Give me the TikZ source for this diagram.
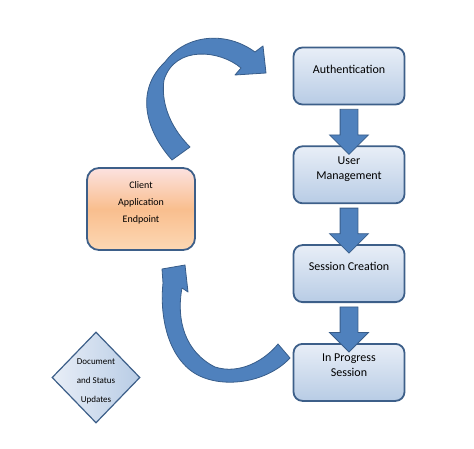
\documentclass[tikz,border=0pt]{standalone}
\usepackage{fontspec}
\setmainfont{Carlito}
\usetikzlibrary{positioning,shapes.geometric,shapes.arrows}

\definecolor{edge}{RGB}{61,95,137}
\definecolor{boxtop}{RGB}{232,238,247}
\definecolor{boxbot}{RGB}{184,204,229}
\definecolor{arrowfill}{RGB}{79,129,189}
\definecolor{arrowedge}{RGB}{56,93,138}
\definecolor{peachtop}{RGB}{252,226,224}
\definecolor{peachmid}{RGB}{249,190,142}
\definecolor{peachbot}{RGB}{252,216,180}

\begin{document}
\begin{tikzpicture}
      [x=1pt, y=-1pt,
       stage/.style={draw=edge, line width=1.8pt, rounded corners=9pt,
         top color=boxtop, bottom color=boxbot, minimum width=111pt,
         minimum height=57pt, inner sep=0pt, align=center, text depth=14pt,
         font=\fontsize{12}{15}\selectfont, node distance=40pt},
       client/.style={draw=edge, line width=1.8pt, rounded corners=12pt,
         top color=peachtop, bottom color=peachbot, middle color=peachmid,
         minimum width=108pt, minimum height=82pt, inner sep=0pt,
         align=center, text depth=14pt, font=\fontsize{10}{17}\selectfont},
       note/.style={diamond, draw=edge, line width=1.2pt, left color=boxtop,
         right color=boxbot, minimum width=88pt, minimum height=91pt,
         inner sep=0pt},
       notetext/.style={align=center, font=\fontsize{9}{19}\selectfont, yshift=-4pt},
       flow/.style={single arrow, draw=arrowedge, fill=arrowfill,
         line width=0.8pt, rotate=-90, minimum height=45pt, minimum width=38pt,
         single arrow head extend=10.5pt, inner xsep=0pt, inner ysep=8.5pt,
         xshift=2pt},
       curvearrow/.style={draw=arrowedge, fill=arrowfill, line width=0.8pt, line join=round},
      ]
      \useasboundingbox (0,0) rectangle (474,449);

      \node[stage] (auth) at (349,76) {Authentication};
      \node[stage, below=of auth] (users) {User\\Management};
      \node[stage, below=of users] (session) {Session Creation};
      \node[stage, below=of session] (progress) {In Progress\\Session};

      \node[client] (endpoint) at (141,209) {Client\\Application\\Endpoint};
      \node[note, label={[notetext]center:Document\\and Status\\Updates}] (updates) at (96,377.5) {};

      \path (auth.south) -- (users.north) node[midway, flow] {};
      \path (users.south) -- (session.north) node[midway, flow] {};
      \path (session.south) -- (progress.north) node[midway, flow] {};

      % curved arrows
      \draw[curvearrow] (172,160) .. controls (145,130) and (135,90) .. (165,62)
        .. controls (185,35) and (225,30) .. (255,52)
        -- (263,46) -- (266,73) -- (235,75) -- (241,68)
        .. controls (220,50) and (175,45) .. (164,80)
        .. controls (161,100) and (168,125) .. (190,147) -- cycle;
      \draw[curvearrow] (278,344) -- (290,358) .. controls (265,385) and (215,390) .. (190,370)
        .. controls (165,350) and (160,310) .. (163,283)
        -- (162,269) -- (185,265) -- (188,292) -- (182,288)
        .. controls (176,320) and (185,352) .. (215,367)
        .. controls (240,375) and (265,360) .. (278,344) -- cycle;
    \end{tikzpicture}
\end{document}
